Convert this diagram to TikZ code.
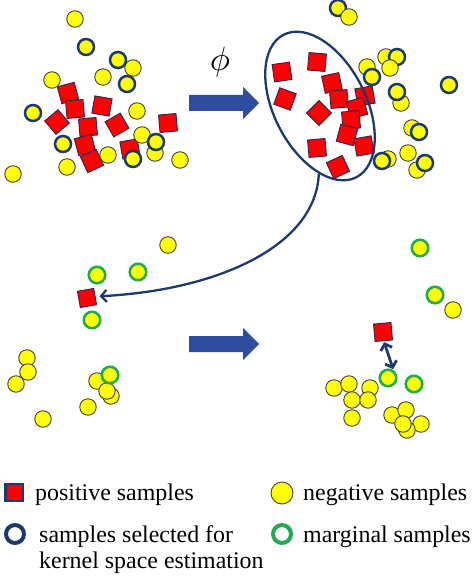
\documentclass[tikz,border=0pt]{standalone}
\usepackage{fontspec}
\setmainfont{Liberation Serif}
\usetikzlibrary{shapes.geometric,arrows.meta}
\definecolor{navy}{RGB}{28,58,112}
\definecolor{ablue}{RGB}{46,76,160}
\definecolor{grn}{RGB}{36,170,80}
\definecolor{yel}{RGB}{255,255,0}
\definecolor{sqb}{RGB}{50,35,80}
\definecolor{rd}{RGB}{255,0,0}
\begin{document}
\begin{tikzpicture}[x=1bp,y=-1bp,
  neg/.style={circle,fill=yel,draw=black!75,line width=0.9bp,minimum size=16.5bp,inner sep=0pt},
  sel/.style={circle,fill=yel,draw=navy,line width=2.5bp,minimum size=16bp,inner sep=0pt},
  marg/.style={circle,fill=yel,draw=grn,line width=2.6bp,minimum size=16.5bp,inner sep=0pt},
  possq/.style={rectangle,fill=rd,draw=sqb,line width=0.9bp,minimum size=17.5bp,inner sep=0pt},
  barrow/.style={fill=ablue},
  legtext/.style={anchor=base west,inner sep=0pt,font=\fontsize{24}{26}\selectfont},
  conn/.style={draw=navy,line width=2.3bp},
  mytip/.tip={Straight Barb[length=5.5bp,width=12bp]}]
\path[use as bounding box] (0,0) rectangle (474,577);

% ---------- top left cluster ----------
\foreach \x/\y/\r [count=\i] in {68/93/15,75/109/5,102/106/-10,57/122/40,88/127/5,117/125/30,168/123/5,85/145/15,130/149/10,92/161/25}
  \node[possq,rotate=\r] (a\i) at (\x,\y) {};
\foreach \x/\y [count=\i] in {75/19,133/68,52/80,103/77,137/111,142/135,155/153,108/155,180/160,67/167,13/174}
  \node[neg] (an\i) at (\x,\y) {};
\foreach \x/\y [count=\i] in {86/47,118/60,127/84,33/113,156/142,63/144,133/159}
  \node[sel] (as\i) at (\x,\y) {};

% ---------- mapping arrow and phi ----------
\fill[barrow] (189,95) -- (243,95) -- (243,87) -- (259,103) -- (243,119) -- (243,111) -- (189,111) -- cycle;
\node[scale=3.4] (phi) at (220,62) {$\phi$};

% ---------- top right cluster ----------
\foreach \x/\y/\r [count=\i] in {282/72/8,317/62/-5,332/83/12,285/99/-20,339/99/5,365/96/10,319/113/45,357/108/15,351/120/5,347/135/-15,364/146/10,317/148/5,338/167/25}
  \node[possq,rotate=\r] (b\i) at (\x,\y) {};
\node[ellipse,draw=navy,line width=2.3bp,minimum width=160bp,minimum height=92bp,inner sep=0pt,rotate=-63] (ell) at (320,106) {};
\node[sel] (bs1) at (338,8) {};
\node[neg] (bn1) at (349,17) {};
\foreach \x/\y [count=\i from 2] in {367/67,386/57,401/103,412/128,408/153,388/159,417/170}
  \node[neg] (bn\i) at (\x,\y) {};
\foreach \x/\y [count=\i from 2] in {372/77,397/57,449/85,397/92,419/132,382/161,425/163}
  \node[sel] (bs\i) at (\x,\y) {};
\node[neg] (bn9) at (390,68) {};

% ---------- lower left ----------
\node[neg] (cn1) at (168,245) {};
\node[marg] (cm1) at (97,275) {};
\node[marg] (cm2) at (138,272) {};
\node[possq,rotate=10,minimum size=16.5bp] (q) at (87,298) {};
\node[marg] (cm3) at (92,320) {};
\foreach \x/\y [count=\i from 2] in {27/358,28/372,16/384,97/381,111/396,107/391,88/407,43/419}
  \node[neg] (cn\i) at (\x,\y) {};
\node[marg] (cm4) at (110,375) {};

\draw[conn,-mytip,shorten >=4bp] (ell.-28) .. controls (316,245) and (220,290) .. (q.east);

% ---------- second arrow ----------
\fill[barrow] (189,336) -- (243,336) -- (243,328) -- (259,344) -- (243,360) -- (243,352) -- (189,352) -- cycle;

% ---------- lower right ----------
\node[marg] (dm1) at (420,248) {};
\node[marg] (dm2) at (435,295) {};
\node[neg] (dn1) at (453,310) {};
\node[possq,rotate=5] (r) at (383,332) {};
\foreach \x/\y [count=\i from 2] in {334/388,349/384,370/388,352/400,368/400,352/418,392/415,406/410,421/424,407/430,403/424}
  \node[neg] (dn\i) at (\x,\y) {};
\node[marg] (dm3) at (388,378) {};
\node[marg] (dm4) at (414,384) {};
\draw[conn,line width=2.8bp,mytip-mytip,shorten <=1bp,shorten >=1bp] (r.south) -- (dm3.55);

% ---------- legend ----------
\node[possq,minimum size=17bp,line width=2bp,draw=navy] (lp) at (14,492) {};
\node[legtext] (lt1) at (35,500) {positive samples};
\node[neg,minimum size=22bp] (ln) at (282,493) {};
\node[legtext] (lt2) at (303,500) {negative samples};
\node[circle,draw=navy,line width=4bp,minimum size=18bp,inner sep=0pt,fill=white] (ls) at (15,534) {};
\node[legtext] (lt3) at (39,542) {samples selected for};
\node[legtext] (lt4) at (39,568) {kernel space estimation};
\node[circle,draw=grn,line width=4bp,minimum size=18bp,inner sep=0pt,fill=white] (lm) at (282,534) {};
\node[legtext] (lt5) at (303,542) {marginal samples};
\end{tikzpicture}
\end{document}
